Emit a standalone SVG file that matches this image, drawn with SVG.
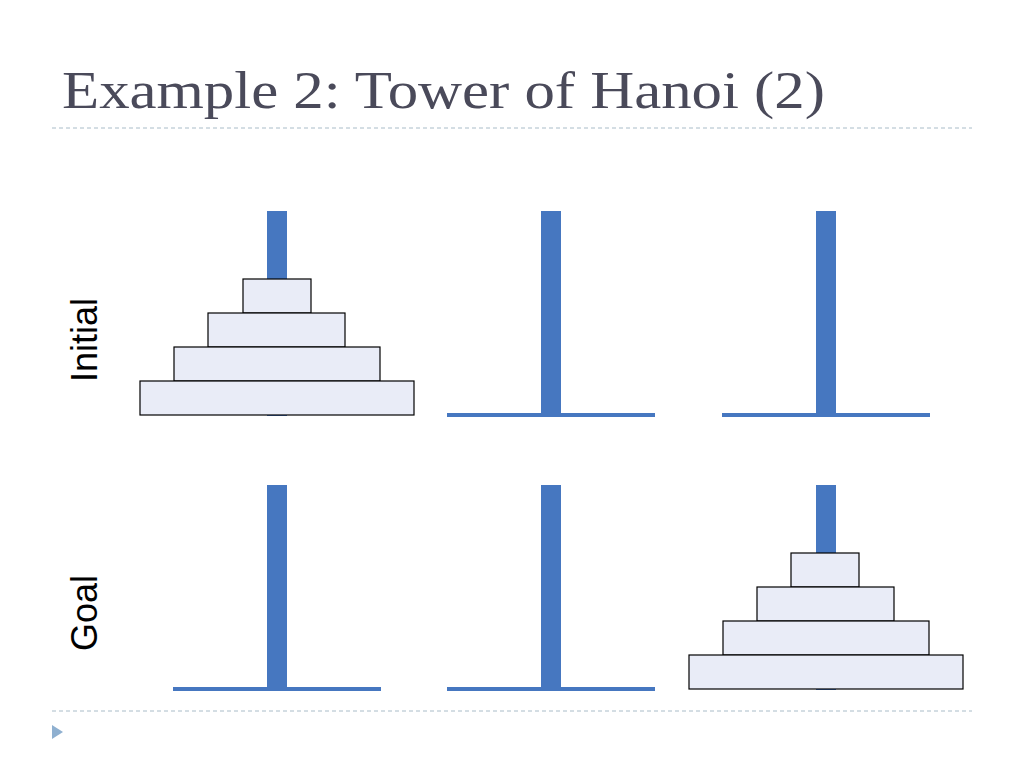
<svg xmlns="http://www.w3.org/2000/svg" width="1024" height="768" viewBox="0 0 1024 768">
<style>
.peg{fill:#4677c0}
.base{stroke:#4677c0;stroke-width:4}
.disk{fill:#e9ecf7;stroke:#000;stroke-width:1.2}
.lbl{font-family:"Liberation Sans",Arial,sans-serif;font-size:36px;fill:#000}
.dash{stroke:#a9bcc8;stroke-width:1;stroke-dasharray:4,3}
</style>
<rect width="1024" height="768" fill="#fff"/>
<text x="62" y="108" font-family="'Liberation Serif','DejaVu Serif',serif" font-size="52" fill="#4a4a5a" textLength="763" lengthAdjust="spacingAndGlyphs">Example 2: Tower of Hanoi (2)</text>
<line class="dash" x1="52" y1="128" x2="972" y2="128"/>
<line class="dash" x1="52" y1="711" x2="972" y2="711"/>
<polygon points="52,725 63,732 52,739" fill="#8fb0d0"/>
<g id="initial-label"><text class="lbl" transform="translate(97,340) rotate(-90)" text-anchor="middle">Initial</text></g>
<g id="goal-label"><text class="lbl" transform="translate(97,613) rotate(-90)" text-anchor="middle">Goal</text></g>
<g id="top-peg1"><rect class="peg" x="267" y="211" width="20" height="205"/>
<rect class="disk" x="243" y="279" width="68" height="34"/><rect class="disk" x="208" y="313" width="137" height="34"/><rect class="disk" x="174" y="347" width="206" height="34"/><rect class="disk" x="140" y="381" width="274" height="34"/></g>
<g id="top-peg2"><rect class="peg" x="541" y="211" width="20" height="205"/><line class="base" x1="447" y1="415" x2="655" y2="415"/></g>
<g id="top-peg3"><rect class="peg" x="816" y="211" width="20" height="205"/><line class="base" x1="722" y1="415" x2="930" y2="415"/></g>
<g id="bot-peg1"><rect class="peg" x="267" y="485" width="20" height="205"/><line class="base" x1="173" y1="689" x2="381" y2="689"/></g>
<g id="bot-peg2"><rect class="peg" x="541" y="485" width="20" height="205"/><line class="base" x1="447" y1="689" x2="655" y2="689"/></g>
<g id="bot-peg3"><rect class="peg" x="816" y="485" width="20" height="205"/>
<rect class="disk" x="791" y="553" width="68" height="34"/><rect class="disk" x="757" y="587" width="137" height="34"/><rect class="disk" x="723" y="621" width="206" height="34"/><rect class="disk" x="689" y="655" width="274" height="34"/></g>
<g id="connectors"></g>
</svg>
